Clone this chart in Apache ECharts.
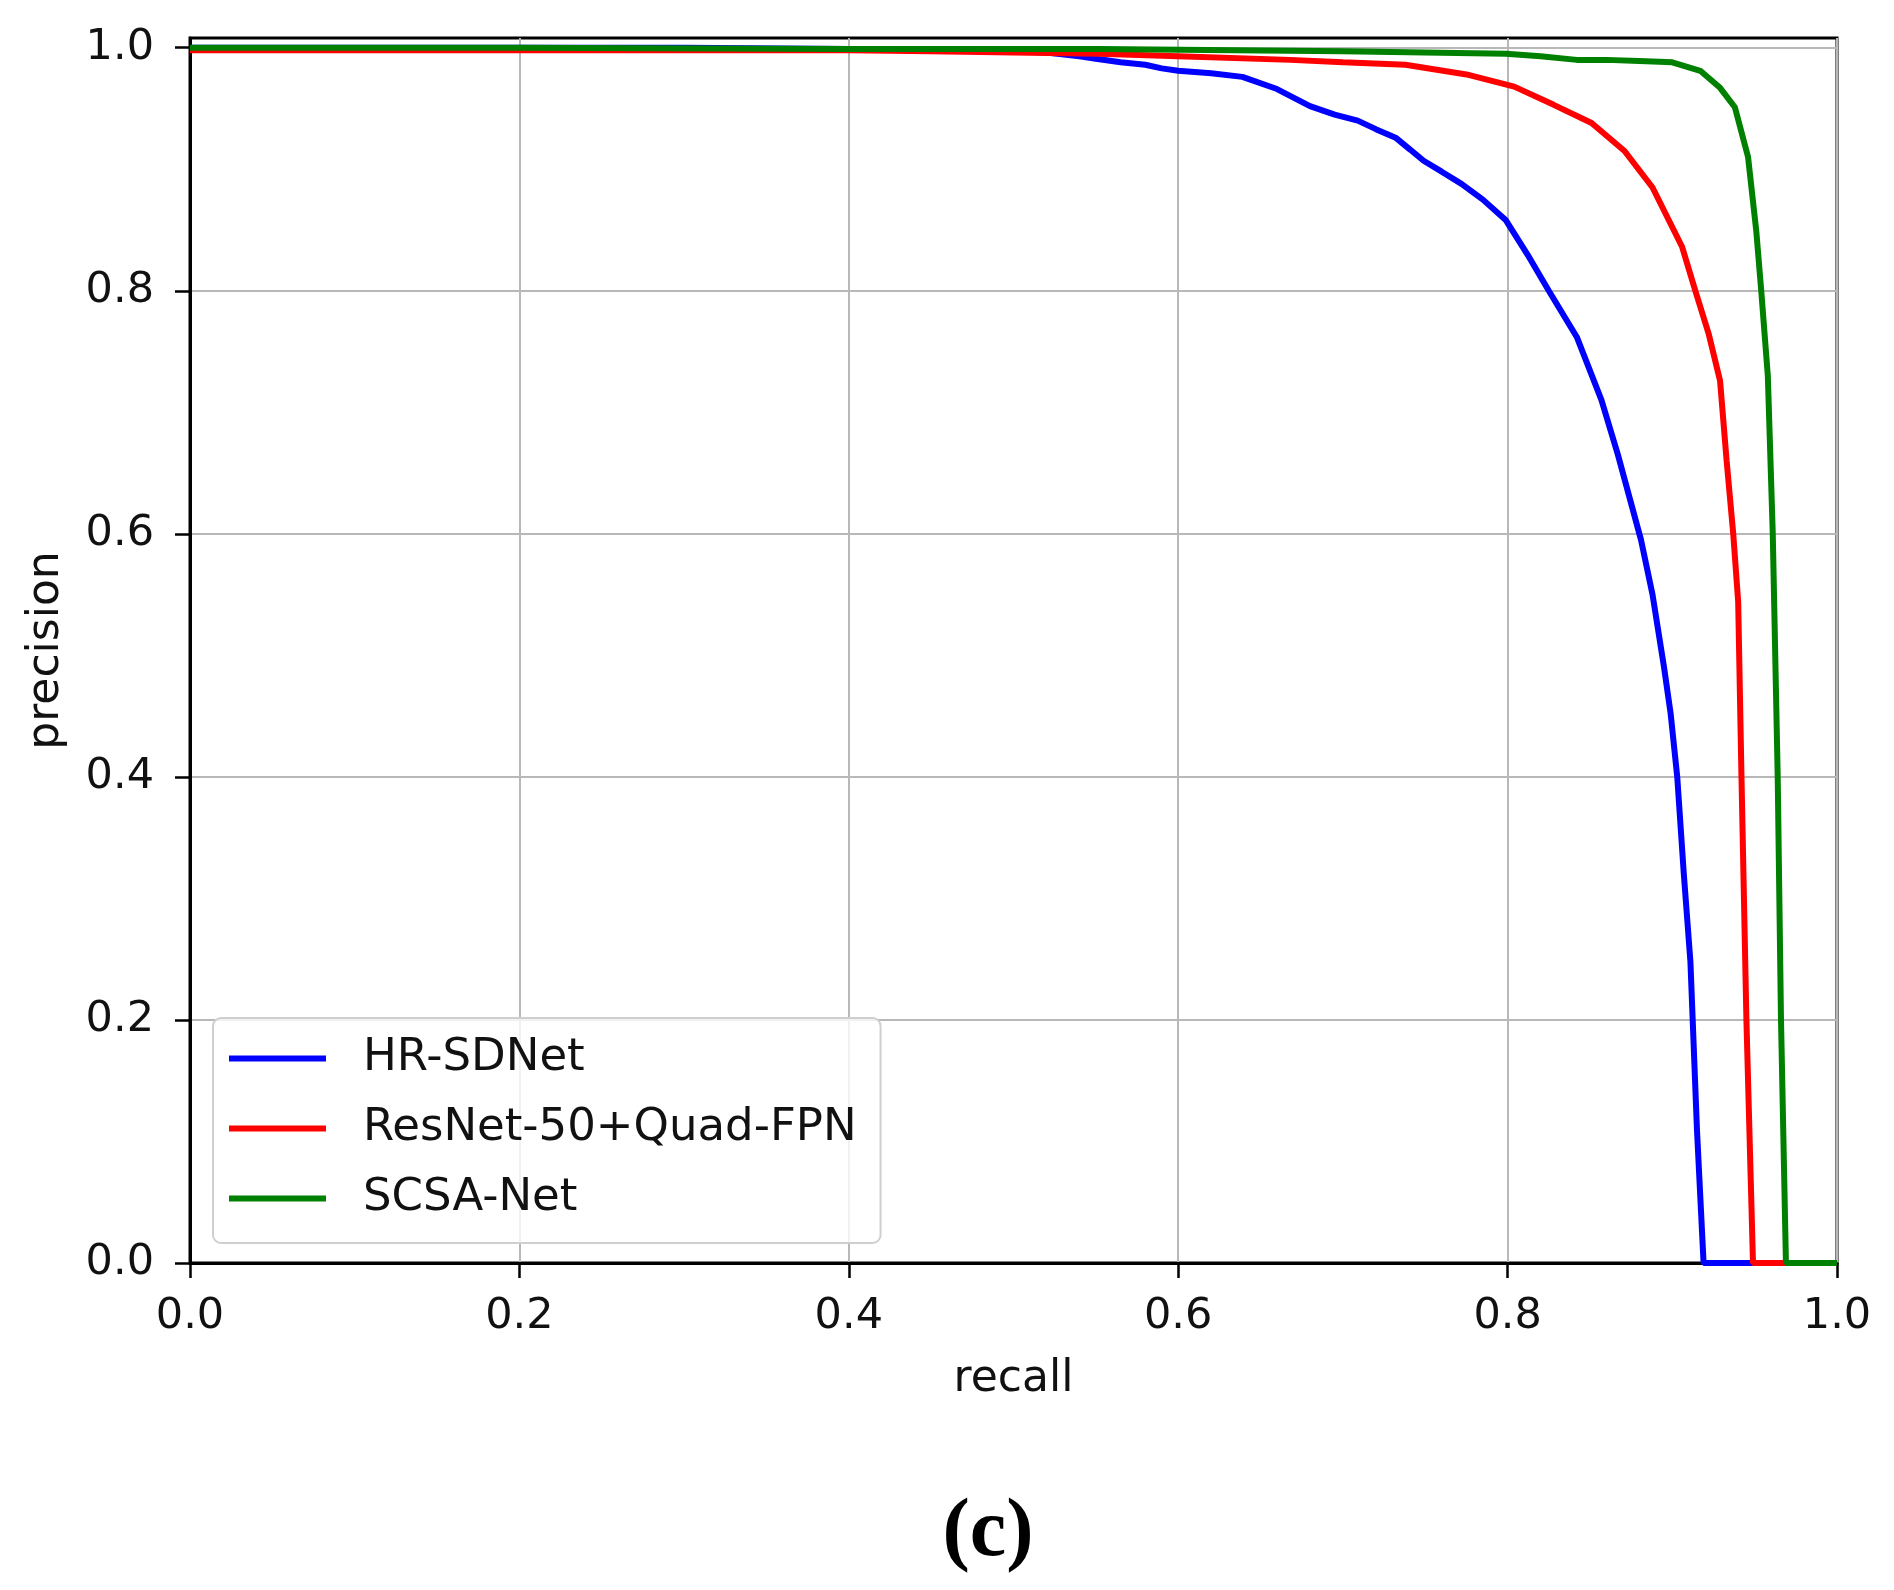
<!DOCTYPE html>
<html>
<head>
<meta charset="utf-8">
<script src="https://cdn.jsdelivr.net/npm/echarts@6/dist/echarts.min.js"></script>
<style>
html,body{margin:0;padding:0;background:#fff;}
#chart{width:1894px;height:1590px;}
</style>
</head>
<body>
<div id="chart"></div>
<script>
// ---- data ----
const seriesNames = ['HR-SDNet', 'ResNet-50+Quad-FPN', 'SCSA-Net'];
const xTicks = [0, 0.2, 0.4, 0.6, 0.8, 1.0];
const yTicks = [0, 0.2, 0.4, 0.6, 0.8, 1.0];

const hrRecall = [0, 0.1, 0.2, 0.3, 0.4, 0.45, 0.5, 0.52, 0.54, 0.55, 0.565, 0.58, 0.59, 0.6, 0.62, 0.639, 0.66, 0.68, 0.695, 0.709, 0.72, 0.732, 0.741, 0.749, 0.76, 0.772, 0.785, 0.799, 0.812, 0.825, 0.842, 0.857, 0.867, 0.874, 0.881, 0.888, 0.895, 0.899, 0.903, 0.907, 0.911, 0.915, 0.919, 1.0];
const hrPrecision = [1.0, 1.0, 1.0, 1.0, 0.999, 0.998, 0.997, 0.996, 0.993, 0.991, 0.988, 0.986, 0.983, 0.981, 0.979, 0.976, 0.966, 0.952, 0.945, 0.940, 0.933, 0.926, 0.916, 0.907, 0.898, 0.888, 0.875, 0.858, 0.830, 0.800, 0.762, 0.710, 0.665, 0.630, 0.595, 0.550, 0.490, 0.452, 0.400, 0.320, 0.248, 0.109, 0.0, 0.0];

const rnRecall = [0, 0.2, 0.4, 0.45, 0.5, 0.552, 0.6, 0.668, 0.7, 0.738, 0.775, 0.804, 0.828, 0.851, 0.871, 0.888, 0.906, 0.914, 0.922, 0.929, 0.933, 0.937, 0.940, 0.942, 0.945, 0.949, 1.0];
const rnPrecision = [0.998, 0.998, 0.998, 0.997, 0.996, 0.995, 0.993, 0.990, 0.988, 0.986, 0.978, 0.968, 0.953, 0.938, 0.915, 0.885, 0.836, 0.800, 0.765, 0.726, 0.660, 0.600, 0.544, 0.400, 0.200, 0.0, 0.0];

const scRecall = [0, 0.2, 0.4, 0.552, 0.7, 0.799, 0.82, 0.842, 0.86, 0.88, 0.9, 0.917, 0.929, 0.938, 0.946, 0.951, 0.954, 0.958, 0.961, 0.964, 0.966, 0.969, 1.0];
const scPrecision = [1.0, 1.0, 0.999, 0.999, 0.997, 0.995, 0.993, 0.990, 0.990, 0.989, 0.988, 0.981, 0.967, 0.951, 0.910, 0.849, 0.800, 0.730, 0.600, 0.400, 0.200, 0.0, 0.0];

const seriesColors = ['#0000ff', '#ff0000', '#008000'];

function pairs(xs, ys) { return xs.map((x, i) => [x, ys[i]]); }
const seriesData = [pairs(hrRecall, hrPrecision), pairs(rnRecall, rnPrecision), pairs(scRecall, scPrecision)];

const chart = echarts.init(document.getElementById('chart'), null, {renderer: 'canvas'});
const FONT = 'DejaVu Sans';
const option = {
  backgroundColor: '#ffffff',
  animation: false,
  grid: {left: 190, right: 57, top: 38, bottom: 327, show: true, borderColor: '#000', borderWidth: 3, backgroundColor: 'transparent'},
  xAxis: {
    type: 'value', min: 0, max: 1, interval: 0.2,
    name: 'recall', nameLocation: 'middle', nameGap: 117,
    nameTextStyle: {fontFamily: FONT, fontSize: 44, color: '#111', verticalAlign: 'middle'},
    axisLine: {show: true, lineStyle: {color: '#000', width: 3}},
    axisTick: {show: true, length: 15, lineStyle: {color: '#000', width: 2.5}},
    axisLabel: {fontFamily: FONT, fontSize: 43, color: '#111', margin: 32, formatter: v => v.toFixed(1)},
    splitLine: {show: true, lineStyle: {color: '#b8b8b8', width: 2}}
  },
  yAxis: {
    type: 'value', min: 0, max: 1.008, interval: 0.2,
    name: 'precision', nameLocation: 'middle', nameGap: 143, nameRotate: 90,
    nameTextStyle: {fontFamily: FONT, fontSize: 44, color: '#111', verticalAlign: 'middle'},
    axisLine: {show: true, lineStyle: {color: '#000', width: 3}},
    axisTick: {show: true, length: 15, customValues: yTicks, lineStyle: {color: '#000', width: 2.5}},
    axisLabel: {fontFamily: FONT, fontSize: 43, color: '#111', margin: 36, customValues: yTicks,
      formatter: v => (Math.abs(v * 5 - Math.round(v * 5)) < 1e-6 ? v.toFixed(1) : '')},
    splitLine: {show: true, lineStyle: {color: '#b8b8b8', width: 2}}
  },
  legend: {
    orient: 'vertical', left: 213, top: 1018,
    data: seriesNames,
    backgroundColor: 'rgba(255,255,255,0.8)',
    borderColor: '#cfcfcf', borderWidth: 2, borderRadius: 8,
    padding: [18, 24, 22, 16],
    itemWidth: 97, itemHeight: 40, itemGap: 25,
    icon: 'path://M0,0 L100,0 L100,6 L0,6 Z',
    textStyle: {fontFamily: FONT, fontSize: 45, color: '#111', padding: [0, 0, 0, 32]}
  },
  series: seriesNames.map((name, i) => ({
    name: name, type: 'line', data: seriesData[i],
    showSymbol: false, symbol: 'none', smooth: false,
    color: seriesColors[i],
    lineStyle: {color: seriesColors[i], width: 6},
    itemStyle: {color: seriesColors[i]},
    z: 2 + i
  })),
  graphic: [{
    type: 'text', x: 988, y: 1534,
    style: {text: '(c)', font: 'bold 82px "Liberation Serif"', fill: '#000', align: 'center', verticalAlign: 'middle'}
  }]
};
chart.setOption(option);
</script>
</body>
</html>
